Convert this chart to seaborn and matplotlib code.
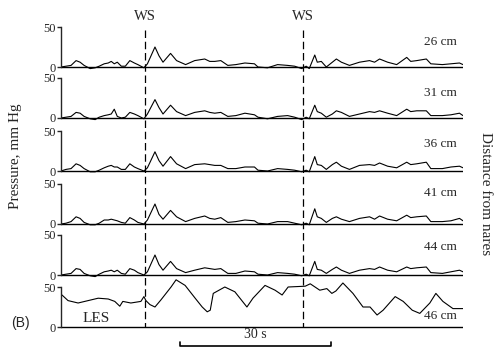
import matplotlib
matplotlib.use("Agg")
import matplotlib.pyplot as plt
import seaborn as sns

# figure size in pixels (dpi 100)
W, H = 500, 356

# time axis (s) shared by the esophageal channels
t_eso = [0.0, 1.0, 2.0, 3.0, 3.8, 4.6, 5.8, 6.8, 7.6, 8.6,
         9.4, 10.0, 10.6, 11.2, 12.0, 12.8, 13.7, 14.6, 15.3, 16.5,
         17.2, 18.7, 19.5, 20.3, 21.8, 23.0, 24.8, 26.6, 28.6, 29.6,
         30.6, 31.8, 33.2, 34.8, 36.6, 38.5, 39.2, 41.1, 43.1, 45.1,
         46.5, 47.9, 48.8, 49.4, 50.5, 51.0, 51.8, 52.8, 54.0, 54.8,
         55.8, 57.4, 59.4, 61.4, 62.4, 63.4, 65.0, 66.8, 68.8, 69.6,
         70.8, 72.7, 73.6, 75.9, 77.6, 79.3, 80.0]

# pressures, mm Hg
p26 = [0, 1, 2, 8, 6, 2, -2, -1, 1, 4,
       5, 7, 4, 6, 1, 1, 8, 5, 3, -1,
       4, 25, 14, 6, 17, 8, 3, 8, 10, 7,
       7, 8, 2, 3, 5, 4, 0, -1, 3, 2,
       1, -2, 1, -2, 15, 6, 7, 0, 6, 10,
       6, 2, 6, 8, 6, 10, 6, 3, 12, 7,
       8, 10, 4, 3, 4, 5, 3]
p31 = [0, 1, 2, 7, 6, 2, -1, -2, 1, 3,
       4, 5, 11, 2, 0, 1, 7, 5, 3, -1,
       5, 23, 13, 5, 16, 8, 3, 7, 9, 7,
       6, 7, 2, 3, 6, 4, 1, -1, 2, 3,
       1, -2, 1, -1, 16, 8, 6, 1, 5, 9,
       7, 2, 5, 8, 7, 9, 6, 3, 11, 8,
       9, 9, 3, 3, 4, 6, 3]
p36 = [0, 2, 3, 9, 7, 3, -1, -1, 1, 4,
       6, 7, 5, 5, 2, 2, 9, 5, 3, 0,
       4, 24, 13, 6, 18, 9, 3, 8, 9, 8,
       7, 7, 3, 3, 5, 5, 1, 0, 3, 2,
       1, -1, 1, -1, 18, 8, 7, 2, 8, 11,
       6, 2, 7, 8, 7, 10, 6, 4, 11, 8,
       9, 11, 3, 3, 5, 6, 4]
p41 = [0, 1, 3, 9, 7, 2, -1, -1, 1, 5,
       5, 6, 5, 4, 2, 1, 8, 5, 2, 0,
       5, 25, 12, 6, 17, 9, 3, 7, 10, 7,
       6, 8, 2, 3, 5, 4, 1, 0, 3, 3,
       1, -1, 1, -1, 19, 9, 7, 2, 7, 9,
       6, 3, 7, 9, 6, 10, 6, 4, 11, 8,
       9, 10, 3, 3, 4, 7, 4]
p44 = [0, 1, 2, 8, 7, 2, -1, -2, 1, 4,
       5, 6, 4, 6, 2, 1, 8, 6, 3, 0,
       4, 25, 13, 6, 17, 8, 3, 6, 9, 8,
       7, 8, 2, 2, 5, 4, 1, 0, 3, 2,
       1, -1, 1, -1, 17, 7, 6, 2, 7, 10,
       6, 2, 6, 8, 7, 10, 6, 4, 10, 8,
       9, 10, 3, 2, 4, 6, 4]

# LES channel (46 cm)
t_les = [0.2, 1.4, 3.4, 5.4, 7.4, 9.4, 10.7, 11.7, 12.3, 13.9,
         15.9, 16.5, 16.9, 17.7, 18.7, 19.9, 21.9, 22.9, 24.7, 26.7,
         28.1, 29.1, 29.7, 30.3, 32.6, 34.6, 37.0, 38.2, 40.6, 42.6,
         44.0, 45.2, 48.6, 49.6, 51.5, 52.9, 53.9, 54.7, 56.1, 58.1,
         60.1, 61.5, 62.9, 64.1, 66.5, 68.1, 69.9, 71.4, 73.4, 74.6,
         76.0, 78.0, 80.0]
p46 = [40, 33, 30, 33, 36, 35, 32, 26, 32, 30,
       32, 38, 33, 28, 25, 34, 50, 59, 52, 36,
       25, 19, 21, 42, 50, 44, 25, 36, 52, 46,
       40, 50, 51, 54, 46, 48, 42, 45, 55, 42,
       25, 25, 15, 21, 38, 32, 21, 17, 30, 42,
       32, 23, 23]

traces = [p26, p31, p36, p41, p44, p46]
times = [t_eso] * 5 + [t_les]
site_labels = ["26 cm", "31 cm", "36 cm", "41 cm", "44 cm", "46 cm"]

ws_times = [16.7, 48.2]
bar_start, bar_len = 23.7, 30

# layout (pixels from top)
baselines = [67, 118, 171, 224, 275, 327]
label_y = [42, 93, 144, 193, 247, 316]
x_left, x_right = 61, 463
px_per_mm = 0.8
y_lo, y_hi = -4, 60

sns.set_style("ticks")
plt.rcParams['font.family'] = ['Liberation Serif', 'DejaVu Serif']

fig = plt.figure(figsize=(W / 100, H / 100), dpi=100)

for t, vals, base in zip(times, traces, baselines):
    bottom = base - y_lo * px_per_mm
    height = (y_hi - y_lo) * px_per_mm
    ax = fig.add_axes([x_left / W, 1 - bottom / H, (x_right - x_left) / W, height / H])
    sns.lineplot(x=t, y=vals, ax=ax, color='k', lw=0.8, sort=False)
    ax.axhline(0, color='k', lw=1.0)
    ax.set_xlim(0, 80)
    ax.set_ylim(y_lo, y_hi)
    ax.set_xticks([])
    ax.set_yticks([0, 50])
    ax.set_xlabel('')
    ax.set_ylabel('')
    sns.despine(ax=ax, bottom=True)
    ax.spines['left'].set_bounds(0, 50)
    ax.spines['left'].set_linewidth(1.0)
    ax.tick_params(axis='y', length=3, width=1, pad=1, labelsize=9)
    ax.patch.set_alpha(0)

# overlay for swallow markers and scale bar, y in pixels
ov = fig.add_axes([x_left / W, 0, (x_right - x_left) / W, 1])
ov.set_xlim(0, 80)
ov.set_ylim(H, 0)
ov.axis('off')
ov.patch.set_alpha(0)
ov.vlines(ws_times, 30, baselines[-1], colors='k', lw=0.9, linestyles=(0, (6, 3)))
for t in ws_times:
    ov.text(t, 17, "WS", ha='center', va='center', fontsize=10.5)
ov.plot([bar_start, bar_start, bar_start + bar_len, bar_start + bar_len],
        [342, 346, 346, 342], color='k', lw=1.2)
ov.text(bar_start + bar_len / 2, 335, "30 s", ha='center', va='center', fontsize=10)

for lab, y in zip(site_labels, label_y):
    fig.text(440 / W, 1 - y / H, lab, ha='center', va='center', fontsize=9.5)

fig.text(96 / W, 1 - 318 / H, "LES", ha='center', va='center', fontsize=11)
fig.text(20 / W, 1 - 323 / H, "(B)", ha='center', va='center', fontsize=10,
         family=['Liberation Sans', 'DejaVu Sans'])
fig.text(16 / W, 1 - 156 / H, "Pressure, mm Hg", rotation=90, ha='center', va='center', fontsize=11)
fig.text(485 / W, 1 - 194 / H, "Distance from nares", rotation=-90, ha='center', va='center', fontsize=11)

fig.savefig("out.png", dpi=100, facecolor='white')
